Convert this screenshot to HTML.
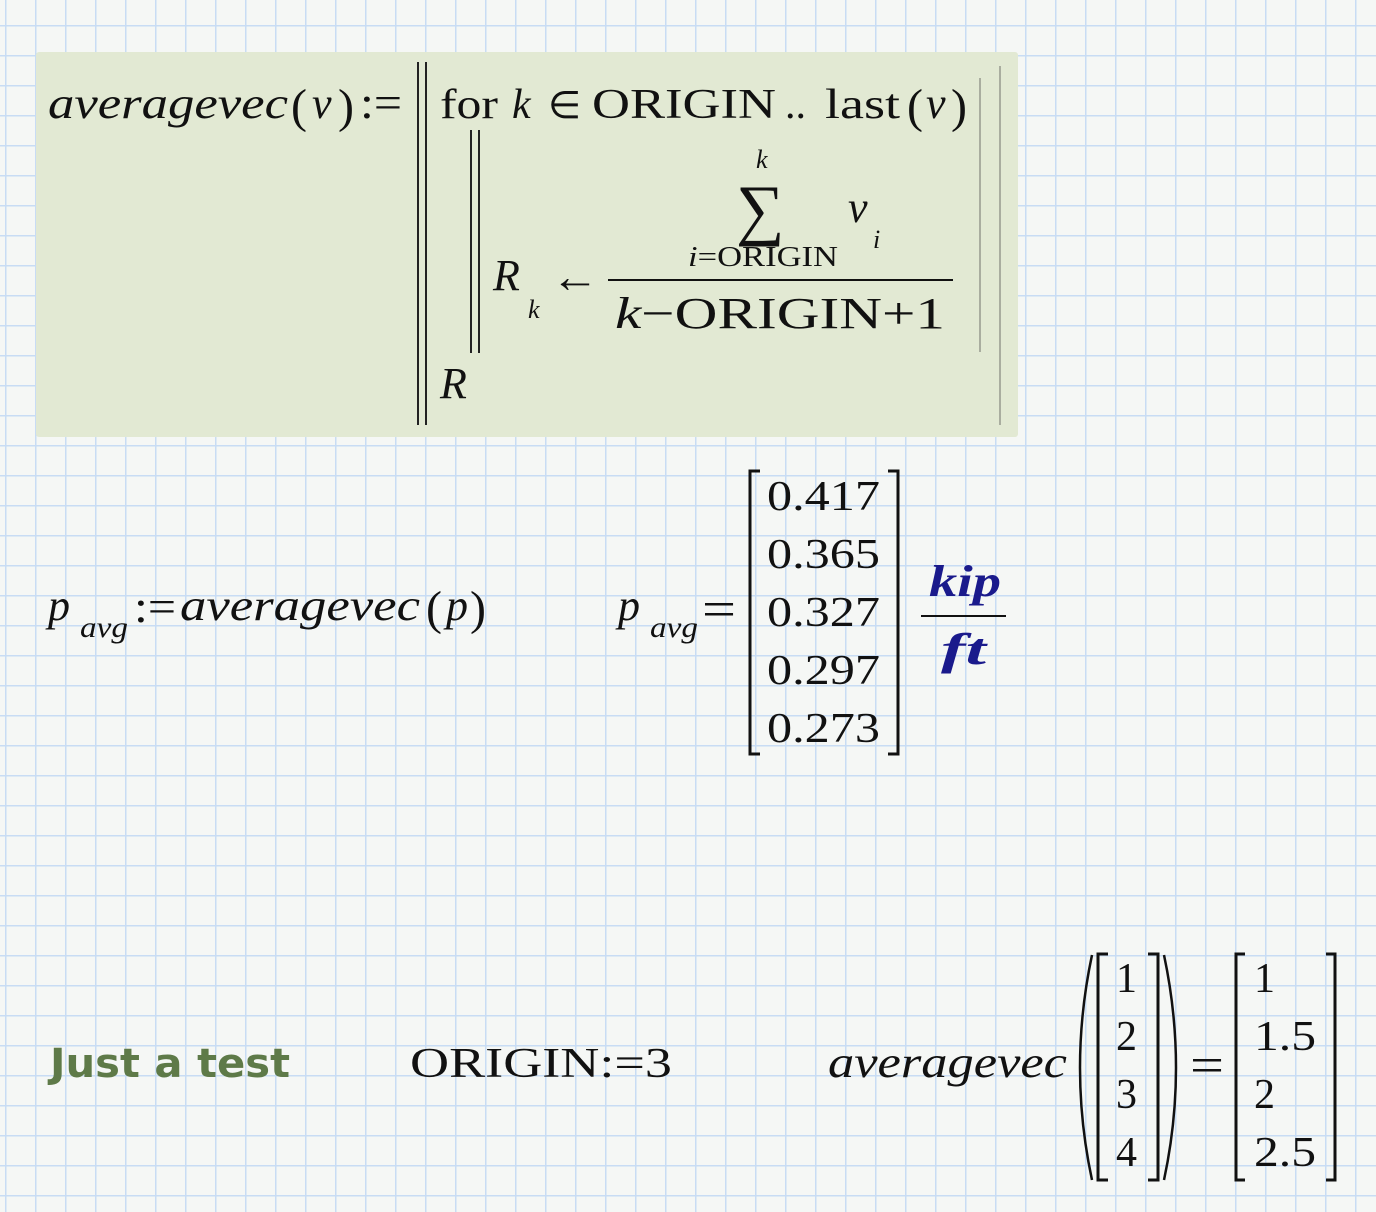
<!DOCTYPE html>
<html><head><meta charset="utf-8"><style>
html,body{margin:0;padding:0;}
body{width:1376px;height:1212px;overflow:hidden;background:#f5f7f5;}
svg{display:block}
text{font-family:"Liberation Serif",serif;fill:#111;}
.i{font-style:italic}
</style></head><body>
<svg width="1376" height="1212" xmlns="http://www.w3.org/2000/svg">
<defs>
<pattern id="g" x="5" y="25" width="30" height="30" patternUnits="userSpaceOnUse">
<path d="M0.75 0V30M0 0.75H30" stroke="#c8dcf4" stroke-width="1.5" fill="none"/>
</pattern>
</defs>
<rect width="1376" height="1212" fill="url(#g)"/>
<rect x="36" y="52" width="982" height="385" rx="3" fill="#e2e9d3"/>

<!-- row 1 -->
<text x="48" y="118" font-size="44" class="i" textLength="240" lengthAdjust="spacingAndGlyphs">averagevec</text>
<text x="291" y="122" font-size="48">(</text>
<text x="312" y="118" font-size="44" class="i">v</text>
<text x="338" y="122" font-size="48">)</text>
<text x="360" y="118" font-size="46" textLength="42" lengthAdjust="spacingAndGlyphs">:=</text>
<g stroke="#222" stroke-width="2">
<line x1="418" y1="62" x2="418" y2="425"/><line x1="426" y1="62" x2="426" y2="425"/>
<line x1="471" y1="130" x2="471" y2="353"/><line x1="479" y1="130" x2="479" y2="353"/>
</g>
<g stroke="#a9ad9f" stroke-width="2">
<line x1="980" y1="78" x2="980" y2="352"/><line x1="1000" y1="66" x2="1000" y2="425"/>
</g>
<text x="440" y="118" font-size="42" textLength="58" lengthAdjust="spacingAndGlyphs">for</text>
<text x="512" y="118" font-size="42" class="i">k</text>
<text x="548" y="118" font-size="38">∈</text>
<text x="592" y="118" font-size="42" textLength="184" lengthAdjust="spacingAndGlyphs">ORIGIN</text>
<text x="785" y="118" font-size="42">..</text>
<text x="825" y="118" font-size="42" textLength="75" lengthAdjust="spacingAndGlyphs">last</text>
<text x="907" y="122" font-size="48">(</text>
<text x="926" y="118" font-size="44" class="i">v</text>
<text x="951" y="122" font-size="48">)</text>

<text x="756" y="168" font-size="26" class="i">k</text>
<text x="736" y="232" font-size="68">∑</text>
<text x="688" y="266" font-size="28" textLength="150" lengthAdjust="spacingAndGlyphs"><tspan class="i">i</tspan>=ORIGIN</text>
<text x="848" y="222" font-size="44" class="i">v</text>
<text x="873" y="248" font-size="26" class="i">i</text>
<text x="493" y="290" font-size="44" class="i">R</text>
<text x="528" y="318" font-size="26" class="i">k</text>
<text x="551" y="292" font-size="46" textLength="48" lengthAdjust="spacingAndGlyphs">←</text>
<line x1="608" y1="280" x2="953" y2="280" stroke="#111" stroke-width="2"/>
<text x="615" y="328" font-size="44" textLength="330" lengthAdjust="spacingAndGlyphs"><tspan class="i">k</tspan>−ORIGIN+1</text>
<text x="440" y="398" font-size="44" class="i">R</text>

<!-- row 2 -->
<text x="48" y="620" font-size="44" class="i">p</text>
<text x="80" y="637" font-size="30" class="i" textLength="48" lengthAdjust="spacingAndGlyphs">avg</text>
<text x="134" y="622" font-size="46" textLength="42" lengthAdjust="spacingAndGlyphs">:=</text>
<text x="180" y="620" font-size="44" class="i" textLength="240" lengthAdjust="spacingAndGlyphs">averagevec</text>
<text x="426" y="624" font-size="48">(</text>
<text x="446" y="620" font-size="44" class="i">p</text>
<text x="470" y="624" font-size="48">)</text>

<text x="618" y="620" font-size="44" class="i">p</text>
<text x="650" y="637" font-size="30" class="i" textLength="48" lengthAdjust="spacingAndGlyphs">avg</text>
<text x="702" y="626" font-size="50" textLength="34" lengthAdjust="spacingAndGlyphs">=</text>
<path d="M760 471H750V754H760M888 471H898V754H888" stroke="#111" stroke-width="3" fill="none"/>
<g font-size="42">
<text x="767" y="510" textLength="113" lengthAdjust="spacingAndGlyphs">0.417</text>
<text x="767" y="568" textLength="113" lengthAdjust="spacingAndGlyphs">0.365</text>
<text x="767" y="626" textLength="113" lengthAdjust="spacingAndGlyphs">0.327</text>
<text x="767" y="684" textLength="113" lengthAdjust="spacingAndGlyphs">0.297</text>
<text x="767" y="742" textLength="113" lengthAdjust="spacingAndGlyphs">0.273</text>
</g>
<text x="929" y="596" font-size="44" class="i" font-weight="bold" style="fill:#1a1a8c" textLength="72" lengthAdjust="spacingAndGlyphs">kip</text>
<line x1="921" y1="616" x2="1006" y2="616" stroke="#111" stroke-width="2"/>
<text x="941" y="664" font-size="44" class="i" font-weight="bold" style="fill:#1a1a8c" textLength="45" lengthAdjust="spacingAndGlyphs">ft</text>

<!-- row 3 -->
<text x="50" y="1077" font-size="40" font-weight="bold" style="font-family:'DejaVu Sans','Liberation Sans',sans-serif;fill:#5e7a48" textLength="240" lengthAdjust="spacingAndGlyphs">Just a test</text>
<text x="410" y="1077" font-size="42" textLength="262" lengthAdjust="spacingAndGlyphs">ORIGIN:=3</text>
<text x="828" y="1077" font-size="44" class="i" textLength="239" lengthAdjust="spacingAndGlyphs">averagevec</text>
<path d="M1092 955Q1068 1068 1092 1180M1164 955Q1188 1068 1164 1180" stroke="#111" stroke-width="2.5" fill="none"/>
<path d="M1108 954H1098V1180H1108M1148 954H1158V1180H1148" stroke="#111" stroke-width="3" fill="none"/>
<g font-size="42">
<text x="1116" y="992">1</text><text x="1116" y="1050">2</text><text x="1116" y="1108">3</text><text x="1116" y="1166">4</text>
</g>
<text x="1190" y="1082" font-size="50" textLength="34" lengthAdjust="spacingAndGlyphs">=</text>
<path d="M1245 954H1236V1180H1245M1326 954H1335V1180H1326" stroke="#111" stroke-width="3" fill="none"/>
<g font-size="42">
<text x="1254" y="992">1</text><text x="1254" y="1050" textLength="62" lengthAdjust="spacingAndGlyphs">1.5</text><text x="1254" y="1108">2</text><text x="1254" y="1166" textLength="62" lengthAdjust="spacingAndGlyphs">2.5</text>
</g>
</svg>
</body></html>
